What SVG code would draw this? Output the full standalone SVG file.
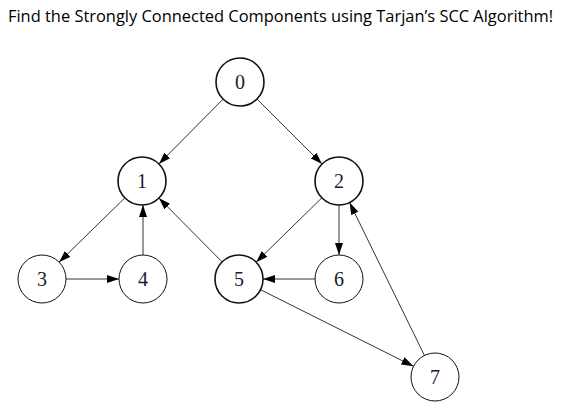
<svg xmlns="http://www.w3.org/2000/svg" width="561" height="412" viewBox="0 0 561 412">
<style>
.title{font-family:"Open Sans","Liberation Sans",sans-serif;font-size:16px;fill:#000}
.n circle{fill:#fff;stroke:#111;stroke-width:1}
.n.b circle{stroke-width:1.6}
.n text{font-family:"Liberation Serif","DejaVu Serif",serif;font-size:20px;text-anchor:middle;fill:#1a1a2e}
.e line{stroke:#333;stroke-width:1;marker-end:url(#ah)}
</style>
<defs>
<marker id="ah" viewBox="0 0 12 8" refX="12" refY="4" markerWidth="12" markerHeight="8" markerUnits="userSpaceOnUse" orient="auto">
<path d="M0,0 L12,4 L0,8 z" fill="#000"/>
</marker>
</defs>
<rect width="561" height="412" fill="#fff"/>
<text class="title" x="8" y="22" textLength="545" lengthAdjust="spacingAndGlyphs">Find the Strongly Connected Components using Tarjan’s SCC Algorithm!</text>
<g id="edges" class="e">
<line x1="223.1" y1="99.1" x2="158.9" y2="163.9"/>
<line x1="257" y1="99" x2="322" y2="164"/>
<line x1="124.9" y1="197.8" x2="59.1" y2="262.2"/>
<line x1="143" y1="255" x2="143" y2="205"/>
<line x1="222.1" y1="261.9" x2="158.9" y2="198.1"/>
<line x1="66" y1="279" x2="119" y2="279"/>
<line x1="321.9" y1="197.8" x2="256.1" y2="262.2"/>
<line x1="339" y1="205" x2="339" y2="255"/>
<line x1="315" y1="279" x2="263" y2="279"/>
<line x1="260.5" y1="289.7" x2="413.5" y2="366.3"/>
<line x1="424.4" y1="355.4" x2="349.6" y2="202.6"/>
</g>
<g id="node0" class="n b"><circle cx="240" cy="82" r="24"/><text x="240" y="89">0</text></g>
<g id="node1" class="n b"><circle cx="142" cy="181" r="24"/><text x="142" y="188">1</text></g>
<g id="node2" class="n b"><circle cx="339" cy="181" r="24"/><text x="339" y="188">2</text></g>
<g id="node3" class="n"><circle cx="42" cy="279" r="24"/><text x="42" y="286">3</text></g>
<g id="node4" class="n"><circle cx="143" cy="279" r="24"/><text x="143" y="286">4</text></g>
<g id="node5" class="n b"><circle cx="239" cy="279" r="24"/><text x="239" y="286">5</text></g>
<g id="node6" class="n"><circle cx="339" cy="279" r="24"/><text x="339" y="286">6</text></g>
<g id="node7" class="n"><circle cx="435" cy="377" r="24"/><text x="435" y="384">7</text></g>
</svg>
